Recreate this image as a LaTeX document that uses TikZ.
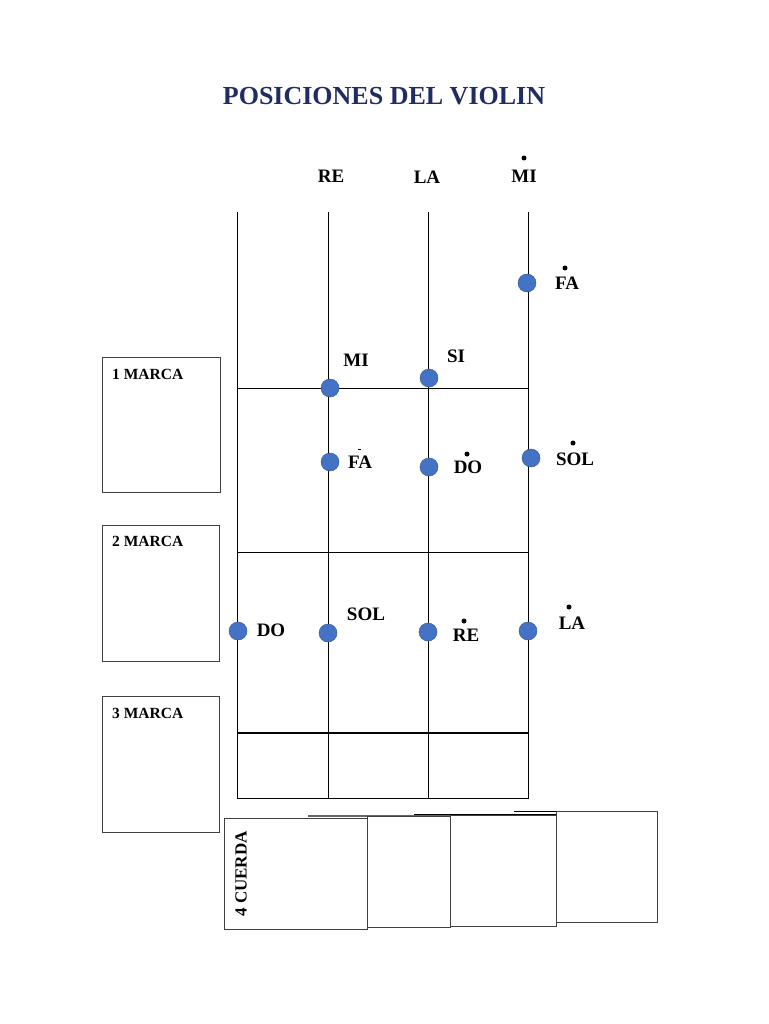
\documentclass[tikz,border=0pt]{standalone}
\usepackage{fontspec}
\setmainfont{Liberation Serif}
\begin{document}
\begin{tikzpicture}[x=1pt,y=-1pt,
  lab/.style={font=\bfseries\fontsize{19}{22}\selectfont,inner sep=0},
  mk/.style={font=\bfseries\fontsize{15.5}{18}\selectfont,inner sep=0,anchor=west},
  pt/.style={circle,fill={rgb,255:red,68;green,114;blue,196},draw={rgb,255:red,47;green,82;blue,143},minimum size=18pt,inner sep=0},
  sm/.style={circle,fill=black,inner sep=0,minimum size=5pt},
  bx/.style={draw=black!75,line width=0.8pt,fill=white}]
\useasboundingbox (0,0) rectangle (768,1024);
\node[font=\bfseries\fontsize{26}{30}\selectfont,text={rgb,255:red,31;green,45;blue,100}] (t) at (384,96) {POSICIONES DEL VIOLIN};
% grid
\draw[line width=0.9pt] (237,212) -- (237,798) -- (528,798) -- (528,212);
\draw[line width=0.9pt] (328,212) -- (328,798);
\draw[line width=0.9pt] (428,212) -- (428,798);
\draw[line width=0.9pt] (237,388) -- (528,388);
\draw[line width=0.9pt] (237,552) -- (528,552);
\draw[line width=1.4pt] (237,733) -- (528,733);
% header
\node[lab] (hre) at (331,176) {RE};
\node[lab] (hla) at (427,177) {LA};
\node[lab] (hmi) at (524,176) {MI};
\node[sm] (hmid) at (524,158) {};
% left boxes
\draw[bx] (102,357) rectangle (220,492);
\draw[bx] (102,525) rectangle (219,661);
\draw[bx] (102,696) rectangle (219,832);
\node[mk] (m1) at (112,374) {1 MARCA};
\node[mk] (m2) at (112,541) {2 MARCA};
\node[mk] (m3) at (112,713) {3 MARCA};
% bottom boxes
\draw[line width=0.9pt] (514,811) -- (657,811);
\draw[bx] (556,811) rectangle (657,922);
\draw[line width=0.9pt] (414,814) -- (556,814);
\draw[bx] (450,815) rectangle (556,926);
\draw[line width=1.2pt,black!60] (308,816) -- (450,816);
\draw[bx] (367,816) rectangle (450,927);
\draw[bx] (224,818) rectangle (367,929);
\node[lab,rotate=90,font=\bfseries\fontsize{17}{20}\selectfont] (cu) at (241,874) {4 CUERDA};
% dots
\node[pt] (d1) at (527,283) {};
\node[pt] (d2) at (330,388) {};
\node[pt] (d3) at (429,378) {};
\node[pt] (d4) at (330,462) {};
\node[pt] (d5) at (429,467) {};
\node[pt] (d6) at (531,458) {};
\node[pt] (d7) at (238,631) {};
\node[pt] (d8) at (328,633) {};
\node[pt] (d9) at (428,632) {};
\node[pt] (d10) at (528,631) {};
% labels
\node[lab] (l1) at (567,283) {FA}; \node[sm] at (565,268) {};
\node[lab] (l2) at (356,360) {MI};
\node[lab] (l3) at (456,356) {SI};
\node[lab] (l4) at (360,462) {FA}; \draw (358,449) -- (361,449);
\node[lab] (l5) at (468,467) {DO}; \node[sm] at (467,454) {};
\node[lab] (l6) at (575,459) {SOL}; \node[sm] at (573,443) {};
\node[lab] (l7) at (271,630) {DO};
\node[lab] (l8) at (366,614) {SOL};
\node[lab] (l9) at (466,635) {RE}; \node[sm] at (464,621) {};
\node[lab] (l10) at (572,623) {LA}; \node[sm] at (569,607) {};
\end{tikzpicture}
\end{document}
